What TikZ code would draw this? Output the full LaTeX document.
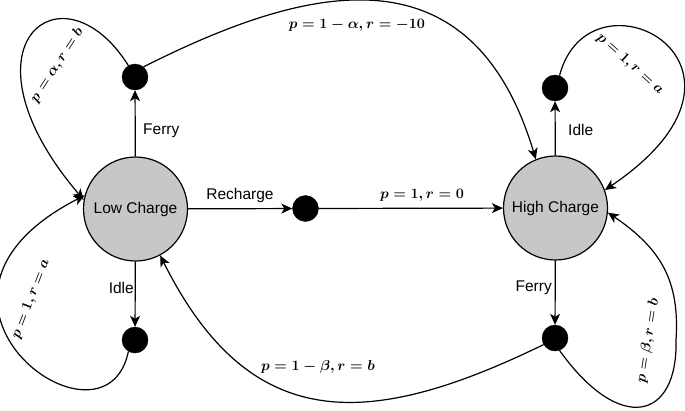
\documentclass[tikz,border=0pt]{standalone}
\usepackage{fontspec}
\setmainfont{Liberation Sans}
\usetikzlibrary{arrows.meta}
\tikzset{
  state/.style={circle, draw, line width=1.2pt, fill=black!22, minimum size=104pt, inner sep=0pt, font=\fontsize{15.5}{18}\selectfont},
  dot/.style={circle, fill=black, draw=black, minimum size=26pt, inner sep=0pt},
  conn/.style={line width=1.2pt, -{Stealth[length=11pt,width=10pt,inset=3pt]}},
  act/.style={font=\fontsize{15.5}{18}\selectfont, inner sep=0pt},
  lab/.style={font=\fontsize{15.5}{18}\selectfont\boldmath, inner sep=0pt},
}
\begin{document}
\begin{tikzpicture}[x=1pt,y=-1pt]
\useasboundingbox (0,0) rectangle (685,410);
\node[state] (lc) at (135.5,209) {Low Charge};
\node[state] (hc) at (555.5,208) {High Charge};
\node[dot] (d1) at (135,77) {};
\node[dot] (d2) at (555,88) {};
\node[dot] (d3) at (305.5,208.5) {};
\node[dot] (d4) at (135,340) {};
\node[dot] (d5) at (555,338) {};
% straight connectors
\draw[conn] (lc) -- (d1);
\draw[conn] (lc) -- (d4);
\draw[conn] (lc) -- (d3);
\draw[conn] (d3) -- (hc);
\draw[conn] (hc) -- (d2);
\draw[conn] (hc) -- (d5);
% curved connectors
\coordinate (c1a) at (62,-40);
\coordinate (c1b) at (-48,45);
\draw[conn] (d1.120) .. controls (c1a) and (c1b) .. (lc.170);
\coordinate (c2a) at (105,465);
\coordinate (c2b) at (-120,300);
\draw[conn] (d4.240) .. controls (c2a) and (c2b) .. (lc.165);
\coordinate (c3a) at (300,-12);
\coordinate (c3b) at (470,-60);
\draw[conn] (d1.50) .. controls (c3a) and (c3b) .. (hc.112);
\coordinate (c4a) at (368,430);
\coordinate (c4b) at (250,435);
\draw[conn] (d5.210) .. controls (c4a) and (c4b) .. (lc.-62);
\coordinate (c5a) at (590,-40);
\coordinate (c5b) at (790,65);
\draw[conn] (d2.70) .. controls (c5a) and (c5b) .. (hc.20);
\coordinate (c6a) at (620,435);
\coordinate (c6b) at (678,420);
\coordinate (w6) at (676,340);
\coordinate (c6c) at (680,280);
\coordinate (c6d) at (660,248);
\draw[conn] (d5.-70) .. controls (c6a) and (c6b) .. (w6) .. controls (c6c) and (c6d) .. (hc.-5);
% action labels
\node[act, anchor=west] (tf1) at (143,131) {Ferry};
\node[act, anchor=east] (ti1) at (134,288) {Idle};
\node[act] (tr) at (240,195) {Recharge};
\node[act, anchor=west] (ti2) at (568,130) {Idle};
\node[act, anchor=east] (tf2) at (552,288) {Ferry};
% edge labels
\node[lab] (l3) at (357,25) {$p = 1-\alpha, r = -10$};
\node[lab] (ld3) at (422,195) {$p = 1, r = 0$};
\node[lab] (l4) at (318,367) {$p = 1-\beta, r = b$};
\node[lab, rotate=57] (l1) at (57,65) {$p = \alpha, r = b$};
\node[lab, rotate=69] (l2) at (31,299) {$p = 1, r = a$};
\node[lab, rotate=-42] (l5) at (630,64) {$p = 1, r = a$};
\node[lab, rotate=81] (l6) at (648,341) {$p = \beta, r = b$};
\end{tikzpicture}
\end{document}
